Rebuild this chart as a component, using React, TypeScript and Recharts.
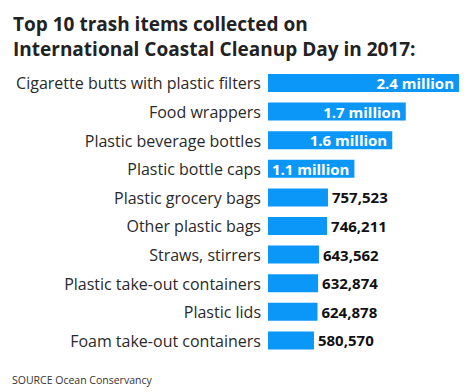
import React from "react";
import { BarChart, Bar, XAxis, YAxis, LabelList } from "recharts";

const categories = [
  "Cigarette butts with plastic filters",
  "Food wrappers",
  "Plastic beverage bottles",
  "Plastic bottle caps",
  "Plastic grocery bags",
  "Other plastic bags",
  "Straws, stirrers",
  "Plastic take-out containers",
  "Plastic lids",
  "Foam take-out containers",
];
const counts = [2412151, 1739743, 1569135, 1091107, 757523, 746211, 643562, 632874, 624878, 580570];
const valueLabels = [
  "2.4 million",
  "1.7 million",
  "1.6 million",
  "1.1 million",
  "757,523",
  "746,211",
  "643,562",
  "632,874",
  "624,878",
  "580,570",
];
const titleLines = ["Top 10 trash items collected on", "International Coastal Cleanup Day in 2017:"];
const sourceText = "SOURCE Ocean Conservancy";

const data = categories.map((c, i) => ({ name: c, value: counts[i], label: valueLabels[i] }));

const FONT = "'Open Sans', sans-serif";
const BLUE = "#0b97f7";

const Tick = (props: any) => {
  const { x, y, payload } = props;
  return (
    <text x={x + 1} y={y} textAnchor="end" dominantBaseline="central" fontFamily={FONT} fontSize={16} fill="#2a2a2a">
      {payload.value}
    </text>
  );
};

const ValueLabel = (props: any) => {
  const { x, y, width, height, index } = props;
  const v = counts[index];
  const text = valueLabels[index];
  const cy = y + height / 2;
  if (v >= 1000000) {
    return (
      <text x={x + width - 5} y={cy} textAnchor="end" dominantBaseline="central" fontFamily={FONT} fontWeight={700} fontSize={15} fill="#ffffff">
        {text}
      </text>
    );
  }
  return (
    <text x={x + width + 4} y={cy} textAnchor="start" dominantBaseline="central" fontFamily={FONT} fontWeight={700} fontSize={15} fill="#111111">
      {text}
    </text>
  );
};

export default function App() {
  return (
    <div style={{ position: "absolute", left: 0, top: 0, width: 474, height: 392, background: "#ffffff", overflow: "hidden" }}>
      <div style={{ position: "absolute", left: 13, top: 12.4, fontFamily: FONT, fontWeight: 700, fontSize: 19, lineHeight: "24.5px", color: "#222222", whiteSpace: "nowrap" }}>
        {titleLines.map((t) => (
          <div key={t}>{t}</div>
        ))}
      </div>
      <div style={{ position: "absolute", left: 0, top: 0 }}>
        <BarChart
          width={474}
          height={392}
          layout="vertical"
          data={data}
          margin={{ top: 69, right: 15, bottom: 37, left: 0 }}
          barSize={18}
        >
          <XAxis type="number" domain={[0, 2412151]} hide />
          <YAxis
            type="category"
            dataKey="name"
            width={268}
            axisLine={false}
            tickLine={false}
            tick={<Tick />}
            interval={0}
          />
          <Bar dataKey="value" fill={BLUE} isAnimationActive={false}>
            <LabelList dataKey="label" content={<ValueLabel />} />
          </Bar>
        </BarChart>
      </div>
      <div style={{ position: "absolute", left: 12, top: 373, fontFamily: FONT, fontSize: 10.5, color: "#333333", whiteSpace: "nowrap" }}>
        {sourceText}
      </div>
    </div>
  );
}
